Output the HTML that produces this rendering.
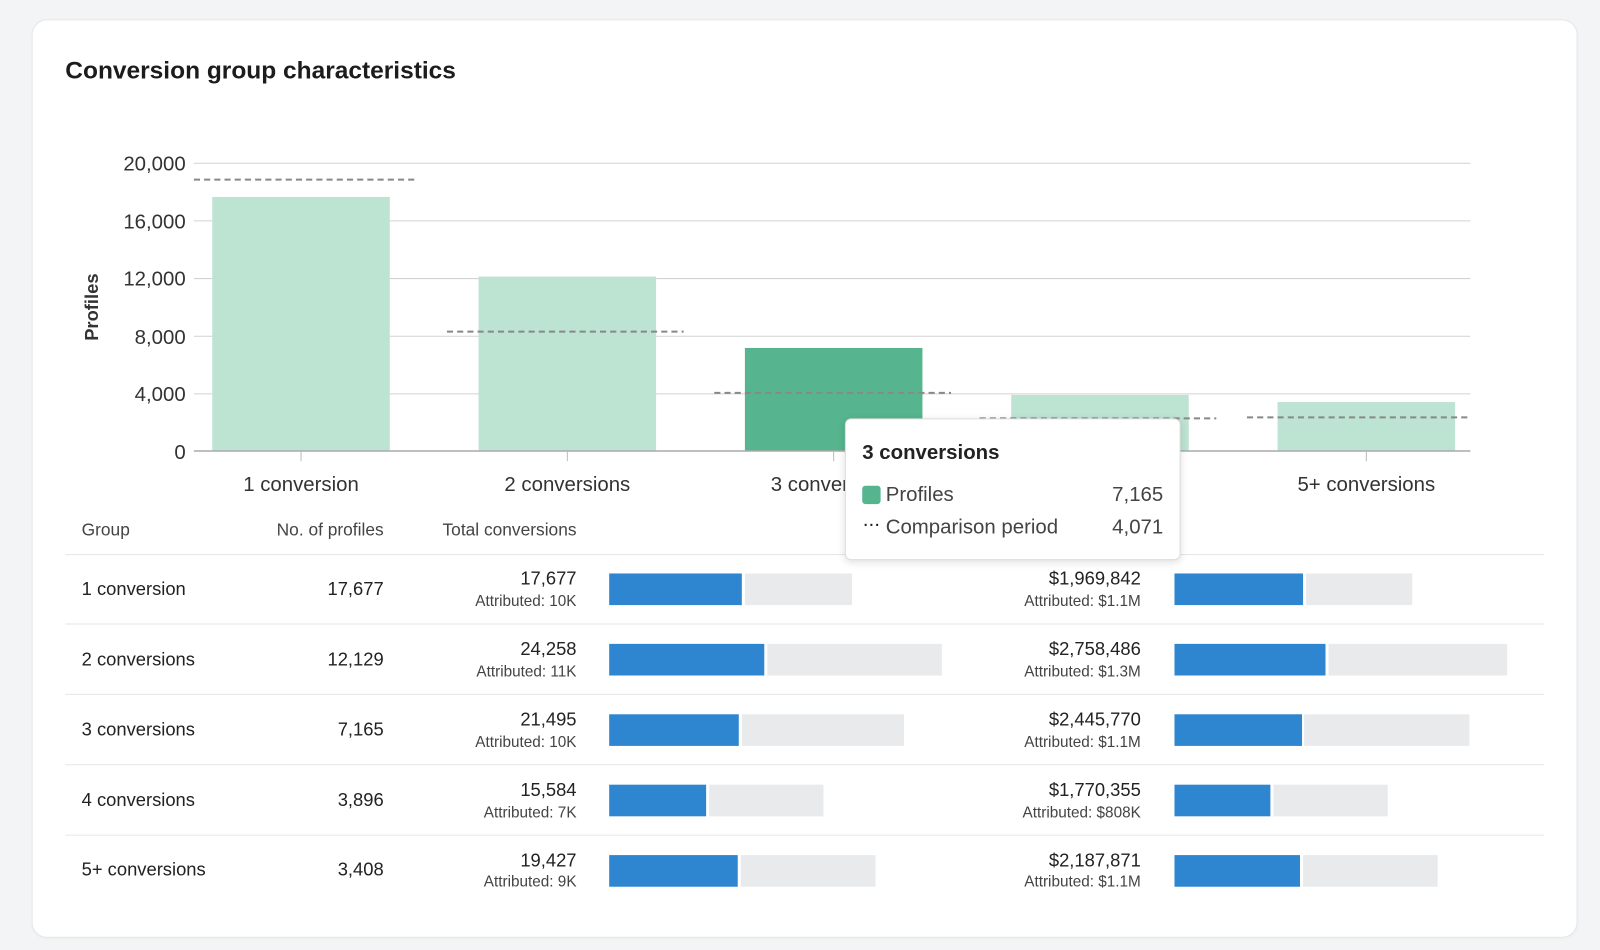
<!DOCTYPE html>
<html><head><meta charset="utf-8">
<style>
html,body{margin:0;padding:0;width:1600px;height:950px;overflow:hidden;background:#f3f4f5;}
#w{position:absolute;left:0;top:0;width:1568px;height:931px;transform:scale(1.0204);transform-origin:0 0;font-family:"Liberation Sans",Arial,sans-serif;color:#222;}
.card{position:absolute;left:32px;top:20px;width:1513px;height:898px;background:#fff;border-radius:14px;box-shadow:0 0 0 1px #e6e7e9,0 1px 3px rgba(0,0,0,.05);}
.t{position:absolute;white-space:nowrap;}
.r{text-align:right;}
.sep{position:absolute;left:64px;width:1449px;height:1px;background:#e6e6e6;}
.bar{position:absolute;height:31px;}
.b{background:#2e86d1;}.g{background:#e9eaec;}
</style></head><body><div id="w">
<div class="card"></div>
<div class="t" style="left:64px;top:56px;font-size:24px;font-weight:bold;color:#1c1c1c;">Conversion group characteristics</div>
<svg style="position:absolute;left:0;top:0" width="1568" height="500" font-family="Liberation Sans,Arial,sans-serif">
<g stroke="#d2d2d2" stroke-width="1">
<line x1="190" y1="160" x2="1441" y2="160"/><line x1="190" y1="216.5" x2="1441" y2="216.5"/><line x1="190" y1="273" x2="1441" y2="273"/><line x1="190" y1="329.5" x2="1441" y2="329.5"/><line x1="190" y1="386" x2="1441" y2="386"/>
</g>
<g font-size="20" fill="#333" text-anchor="end">
<text x="182" y="167">20,000</text><text x="182" y="224">16,000</text><text x="182" y="280">12,000</text><text x="182" y="337">8,000</text><text x="182" y="393">4,000</text><text x="182" y="450">0</text>
</g>
<text transform="translate(96,301) rotate(-90)" text-anchor="middle" font-size="18" font-weight="bold" fill="#333">Profiles</text>
<rect x="208" y="193" width="174" height="249" fill="#bde3d3"/>
<rect x="469" y="271" width="174" height="171" fill="#bde3d3"/>
<rect x="730" y="341" width="174" height="101" fill="#56b58e"/>
<rect x="991" y="387" width="174" height="55" fill="#bde3d3"/>
<rect x="1252" y="394" width="174" height="48" fill="#bde3d3"/>
<g stroke="#888" stroke-width="2" stroke-dasharray="6,4">
<line x1="190" y1="176" x2="410" y2="176"/><line x1="438" y1="325" x2="670" y2="325"/><line x1="700" y1="385" x2="932" y2="385"/><line x1="960" y1="410" x2="1192" y2="410"/><line x1="1222" y1="409" x2="1440" y2="409"/>
</g>
<line x1="190" y1="442" x2="1441" y2="442" stroke="#aaa" stroke-width="1.5"/>
<g stroke="#bbb"><line x1="295" y1="442" x2="295" y2="452"/><line x1="556" y1="442" x2="556" y2="452"/><line x1="817" y1="442" x2="817" y2="452"/><line x1="1078" y1="442" x2="1078" y2="452"/><line x1="1339" y1="442" x2="1339" y2="452"/></g>
<g font-size="20" fill="#333" text-anchor="middle">
<text x="295" y="481">1 conversion</text><text x="556" y="481">2 conversions</text><text x="817" y="481">3 conversions</text><text x="1078" y="481">4 conversions</text><text x="1339" y="481">5+ conversions</text>
</g>
</svg>
<div class="t" style="left:80px;top:510px;font-size:17px;color:#444;">Group</div>
<div class="t r" style="left:176px;width:200px;top:510px;font-size:17px;color:#444;">No. of profiles</div>
<div class="t r" style="left:365px;width:200px;top:510px;font-size:17px;color:#444;">Total conversions</div>
<div class="sep" style="top:543px"></div><div class="sep" style="top:611px"></div><div class="sep" style="top:680px"></div><div class="sep" style="top:749px"></div><div class="sep" style="top:818px"></div>

<div class="t" style="left:80px;top:567px;font-size:18px;">1 conversion</div>
<div class="t r" style="left:176px;width:200px;top:567px;font-size:18px;">17,677</div>
<div class="t r" style="left:365px;width:200px;top:557px;font-size:18px;">17,677</div>
<div class="t r" style="left:365px;width:200px;top:581px;font-size:15px;color:#444;">Attributed: 10K</div>
<div class="bar b" style="left:597px;top:562px;width:130px"></div><div class="bar g" style="left:730px;top:562px;width:105px"></div>
<div class="t r" style="left:918px;width:200px;top:557px;font-size:18px;">$1,969,842</div>
<div class="t r" style="left:918px;width:200px;top:581px;font-size:15px;color:#444;">Attributed: $1.1M</div>
<div class="bar b" style="left:1151px;top:562px;width:126px"></div><div class="bar g" style="left:1280px;top:562px;width:104px"></div>

<div class="t" style="left:80px;top:636px;font-size:18px;">2 conversions</div>
<div class="t r" style="left:176px;width:200px;top:636px;font-size:18px;">12,129</div>
<div class="t r" style="left:365px;width:200px;top:626px;font-size:18px;">24,258</div>
<div class="t r" style="left:365px;width:200px;top:650px;font-size:15px;color:#444;">Attributed: 11K</div>
<div class="bar b" style="left:597px;top:631px;width:152px"></div><div class="bar g" style="left:752px;top:631px;width:171px"></div>
<div class="t r" style="left:918px;width:200px;top:626px;font-size:18px;">$2,758,486</div>
<div class="t r" style="left:918px;width:200px;top:650px;font-size:15px;color:#444;">Attributed: $1.3M</div>
<div class="bar b" style="left:1151px;top:631px;width:148px"></div><div class="bar g" style="left:1302px;top:631px;width:175px"></div>

<div class="t" style="left:80px;top:705px;font-size:18px;">3 conversions</div>
<div class="t r" style="left:176px;width:200px;top:705px;font-size:18px;">7,165</div>
<div class="t r" style="left:365px;width:200px;top:695px;font-size:18px;">21,495</div>
<div class="t r" style="left:365px;width:200px;top:719px;font-size:15px;color:#444;">Attributed: 10K</div>
<div class="bar b" style="left:597px;top:700px;width:127px"></div><div class="bar g" style="left:727px;top:700px;width:159px"></div>
<div class="t r" style="left:918px;width:200px;top:695px;font-size:18px;">$2,445,770</div>
<div class="t r" style="left:918px;width:200px;top:719px;font-size:15px;color:#444;">Attributed: $1.1M</div>
<div class="bar b" style="left:1151px;top:700px;width:125px"></div><div class="bar g" style="left:1278px;top:700px;width:162px"></div>

<div class="t" style="left:80px;top:774px;font-size:18px;">4 conversions</div>
<div class="t r" style="left:176px;width:200px;top:774px;font-size:18px;">3,896</div>
<div class="t r" style="left:365px;width:200px;top:764px;font-size:18px;">15,584</div>
<div class="t r" style="left:365px;width:200px;top:788px;font-size:15px;color:#444;">Attributed: 7K</div>
<div class="bar b" style="left:597px;top:769px;width:95px"></div><div class="bar g" style="left:695px;top:769px;width:112px"></div>
<div class="t r" style="left:918px;width:200px;top:764px;font-size:18px;">$1,770,355</div>
<div class="t r" style="left:918px;width:200px;top:788px;font-size:15px;color:#444;">Attributed: $808K</div>
<div class="bar b" style="left:1151px;top:769px;width:94px"></div><div class="bar g" style="left:1248px;top:769px;width:112px"></div>

<div class="t" style="left:80px;top:842px;font-size:18px;">5+ conversions</div>
<div class="t r" style="left:176px;width:200px;top:842px;font-size:18px;">3,408</div>
<div class="t r" style="left:365px;width:200px;top:833px;font-size:18px;">19,427</div>
<div class="t r" style="left:365px;width:200px;top:856px;font-size:15px;color:#444;">Attributed: 9K</div>
<div class="bar b" style="left:597px;top:838px;width:126px"></div><div class="bar g" style="left:726px;top:838px;width:132px"></div>
<div class="t r" style="left:918px;width:200px;top:833px;font-size:18px;">$2,187,871</div>
<div class="t r" style="left:918px;width:200px;top:856px;font-size:15px;color:#444;">Attributed: $1.1M</div>
<div class="bar b" style="left:1151px;top:838px;width:123px"></div><div class="bar g" style="left:1277px;top:838px;width:132px"></div>

<div style="position:absolute;left:828px;top:410px;width:327px;height:137px;background:#fff;border:1px solid #ddd;border-radius:6px;box-shadow:0 2px 8px rgba(0,0,0,.12);">
<div class="t" style="left:16px;top:22px;font-size:20px;font-weight:bold;color:#222;">3 conversions</div>
<div style="position:absolute;left:16px;top:65px;width:18px;height:18px;background:#56b58e;border-radius:3px;"></div>
<div class="t" style="left:39px;top:63px;font-size:20px;color:#444;">Profiles</div>
<div class="t r" style="left:200px;width:111px;top:63px;font-size:20px;color:#444;">7,165</div>
<div class="t" style="left:16px;top:92px;font-size:20px;color:#222;letter-spacing:-1px;">···</div>
<div class="t" style="left:39px;top:95px;font-size:20px;color:#444;">Comparison period</div>
<div class="t r" style="left:200px;width:111px;top:95px;font-size:20px;color:#444;">4,071</div>
</div>
</div></body></html>
